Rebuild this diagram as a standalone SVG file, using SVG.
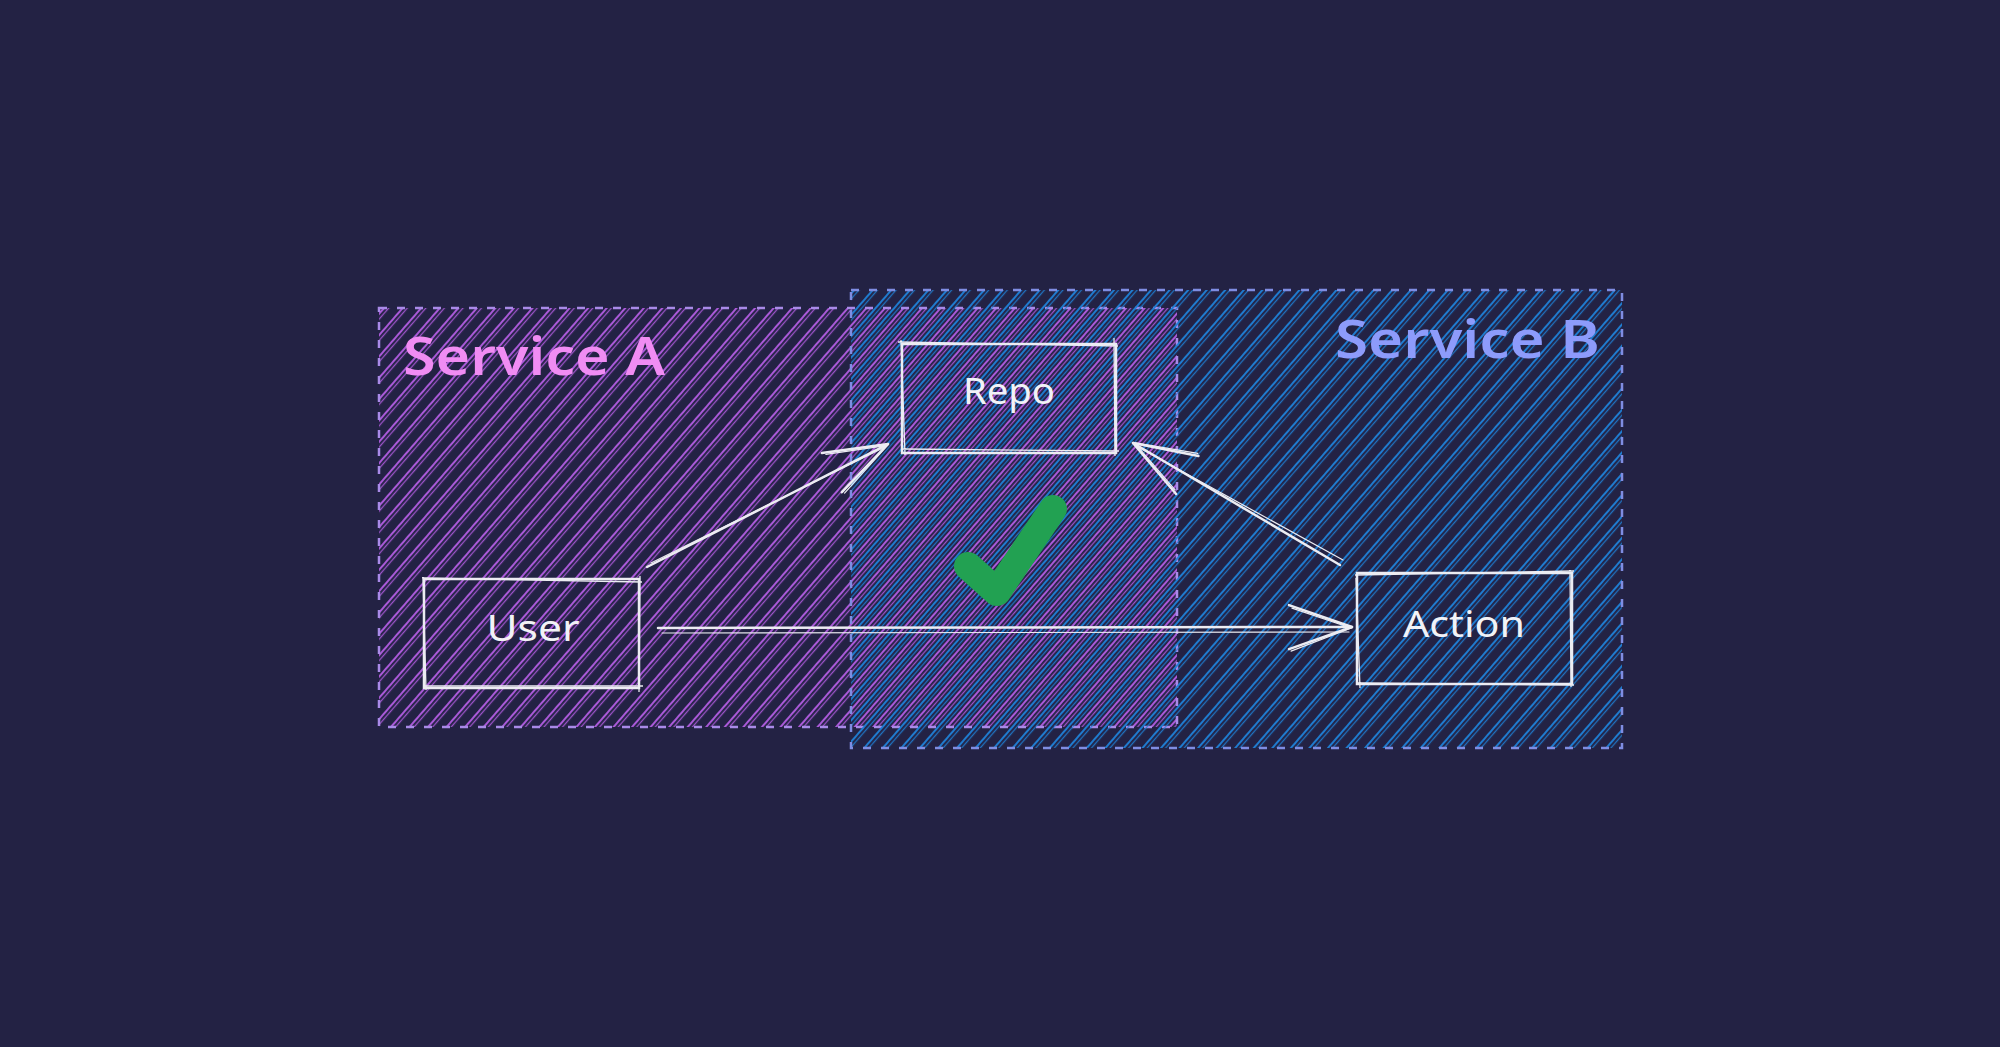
<svg xmlns="http://www.w3.org/2000/svg" width="2000" height="1047" viewBox="0 0 2000 1047">
  <defs>
    <pattern id="hatchA" patternUnits="userSpaceOnUse" width="14" height="14" patternTransform="rotate(41)">
      <line x1="2" y1="-2" x2="2" y2="16" stroke="#b05ce0" stroke-width="1.9"/>
      <line x1="5.5" y1="-2" x2="5.5" y2="16" stroke="#b05ce0" stroke-width="1.3" stroke-opacity="0.85"/>
    </pattern>
    <pattern id="hatchB" patternUnits="userSpaceOnUse" width="14" height="14" patternTransform="rotate(41) translate(7 0)">
      <line x1="2" y1="-2" x2="2" y2="16" stroke="#1e80d6" stroke-width="1.9"/>
      <line x1="5.5" y1="-2" x2="5.5" y2="16" stroke="#1e80d6" stroke-width="1.3" stroke-opacity="0.85"/>
    </pattern>
    <marker id="vhead" markerUnits="userSpaceOnUse" viewBox="-70 -30 80 60" markerWidth="80" markerHeight="60" refX="0" refY="0" orient="auto">
      <path d="M-63,-22 L0,0 L-63,22" fill="none" stroke="#ececf2" stroke-width="2.5" stroke-linecap="round" stroke-linejoin="round"/>
      <path d="M-60,-19 L-1,1 L-61,24" fill="none" stroke="#ececf2" stroke-width="1.2" stroke-linecap="round"/>
    </marker>
    <style>
      .zoneA { fill: url(#hatchA); stroke: #a98ae8; stroke-width: 2.5; stroke-dasharray: 8 10; }
      .zoneB { fill: url(#hatchB); stroke: #7f8de2; stroke-width: 2.5; stroke-dasharray: 8 10; }
      .zlabel { font-family: "Noto Sans", "DejaVu Sans", sans-serif; font-size: 52px; font-weight: 600; }
      .box { fill: none; stroke: #ececf2; stroke-width: 2.5; }
      .box2 { fill: none; stroke: #ececf2; stroke-width: 1.3; }
      .nlabel { font-family: "Noto Sans", "DejaVu Sans", sans-serif; font-size: 36px; fill: #f2f2f6; text-anchor: middle; }
      .edge { fill: none; stroke: #ececf2; stroke-width: 2.5; stroke-linecap: round; }
      .edge2 { fill: none; stroke: #ececf2; stroke-width: 1.2; stroke-linecap: round; }
    </style>
  </defs>
  <rect x="0" y="0" width="2000" height="1047" fill="#232244"/>

  <g id="service-a">
    <rect class="zoneA" x="379" y="308" width="798" height="419"/>
  </g>
  <g id="service-b">
    <rect class="zoneB" x="851" y="290" width="771" height="458"/>
  </g>
  <text class="zlabel" x="403" y="375" fill="#f08cf3" textLength="262" lengthAdjust="spacingAndGlyphs">Service A</text>
  <text class="zlabel" x="1335" y="358" fill="#8d9bfb" textLength="265" lengthAdjust="spacingAndGlyphs">Service B</text>

  <g id="repo">
    <rect class="box" x="902" y="344" width="214" height="109"/>
    <path class="box2" d="M898,342 L1118,346 M1114,338 L1115,456 M1119,451 L903,449 M905,455 L901,340"/>
    <text class="nlabel" x="1009" y="404" textLength="92" lengthAdjust="spacingAndGlyphs">Repo</text>
  </g>
  <g id="user">
    <rect class="box" x="424" y="579" width="215" height="109"/>
    <path class="box2" d="M422,578 L642,582 M640,576 L639,692 M643,686 L425,686 M426,690 L423,577"/>
    <text class="nlabel" x="533" y="641" textLength="93" lengthAdjust="spacingAndGlyphs">User</text>
  </g>
  <g id="action">
    <rect class="box" x="1357" y="573" width="215" height="111"/>
    <path class="box2" d="M1355,575 L1574,571 M1570,570 L1571,687 M1574,685 L1358,683 M1356,578 L1360,688"/>
    <text class="nlabel" x="1464" y="637" textLength="122" lengthAdjust="spacingAndGlyphs">Action</text>
  </g>

  <g id="connectors">
    <path class="edge" d="M647,567 L888,444" marker-end="url(#vhead)"/>
    <path class="edge2" d="M651,563 L885,447"/>
    <path class="edge" d="M1340,565 L1133,443" marker-end="url(#vhead)"/>
    <path class="edge2" d="M1343,560 L1136,446"/>
    <path class="edge" d="M658,628 L1352,627" marker-end="url(#vhead)"/>
    <path class="edge2" d="M662,633 L1349,632"/>
  </g>

  <g id="check">
    <path d="M968,566 L997,592 L1053,509" fill="none" stroke="#22a152" stroke-width="28" stroke-linecap="round" stroke-linejoin="round"/>
  </g>
</svg>
